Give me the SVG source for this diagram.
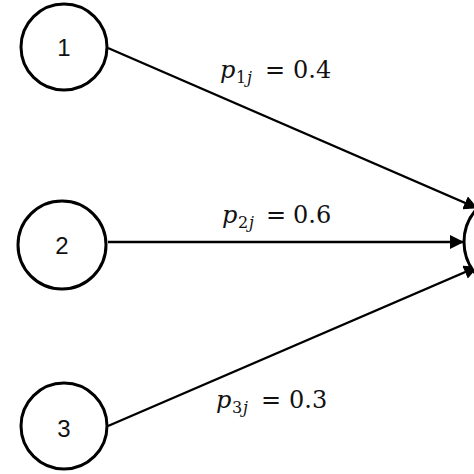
<svg xmlns="http://www.w3.org/2000/svg" width="474" height="474" viewBox="0 0 474 474">
<defs>
<style>
.node{fill:#fff;stroke:#000;stroke-width:3}
.num{font-family:"Liberation Sans",Arial,sans-serif;font-size:24px;fill:#111;text-anchor:middle;dominant-baseline:central}
.edge{stroke:#000;stroke-width:2.4;fill:none;marker-end:url(#arr)}
.lbl{font-family:"DejaVu Serif","Liberation Serif",serif;font-size:24px;fill:#111}
.it{font-style:italic}
.sub{font-size:16px}
</style>
<marker id="arr" markerUnits="userSpaceOnUse" markerWidth="14" markerHeight="14" refX="13" refY="7" orient="auto">
<path d="M0,0 L14,7 L0,14 z" fill="#000"/>
</marker>
</defs>
<rect width="474" height="474" fill="#fff"/>
<g id="connectors">
<line class="edge" x1="108" y1="48" x2="477" y2="208"/>
<line class="edge" x1="108" y1="242" x2="463" y2="242"/>
<line class="edge" x1="108" y1="426" x2="477" y2="267"/>
</g>
<g id="n1"><circle class="node" cx="64" cy="47" r="43"/><text class="num" x="64" y="47">1</text></g>
<g id="n2"><circle class="node" cx="62" cy="245" r="44"/><text class="num" x="62" y="245">2</text></g>
<g id="n3"><circle class="node" cx="64" cy="426" r="43"/><text class="num" x="64" y="428">3</text></g>
<g id="nj"><circle class="node" cx="513" cy="242" r="49"/></g>
<g id="labels">
<text class="lbl" y="78"><tspan class="it" x="220">p</tspan><tspan class="sub" x="236" dy="5">1</tspan><tspan class="sub it" x="247">j</tspan><tspan x="265" dy="-5">=</tspan><tspan x="293">0.4</tspan></text>
<text class="lbl" y="223"><tspan class="it" x="222">p</tspan><tspan class="sub" x="238" dy="5">2</tspan><tspan class="sub it" x="249">j</tspan><tspan x="266" dy="-5">=</tspan><tspan x="293">0.6</tspan></text>
<text class="lbl" y="408"><tspan class="it" x="216">p</tspan><tspan class="sub" x="232" dy="5">3</tspan><tspan class="sub it" x="243">j</tspan><tspan x="261" dy="-5">=</tspan><tspan x="289">0.3</tspan></text>
</g>
</svg>
